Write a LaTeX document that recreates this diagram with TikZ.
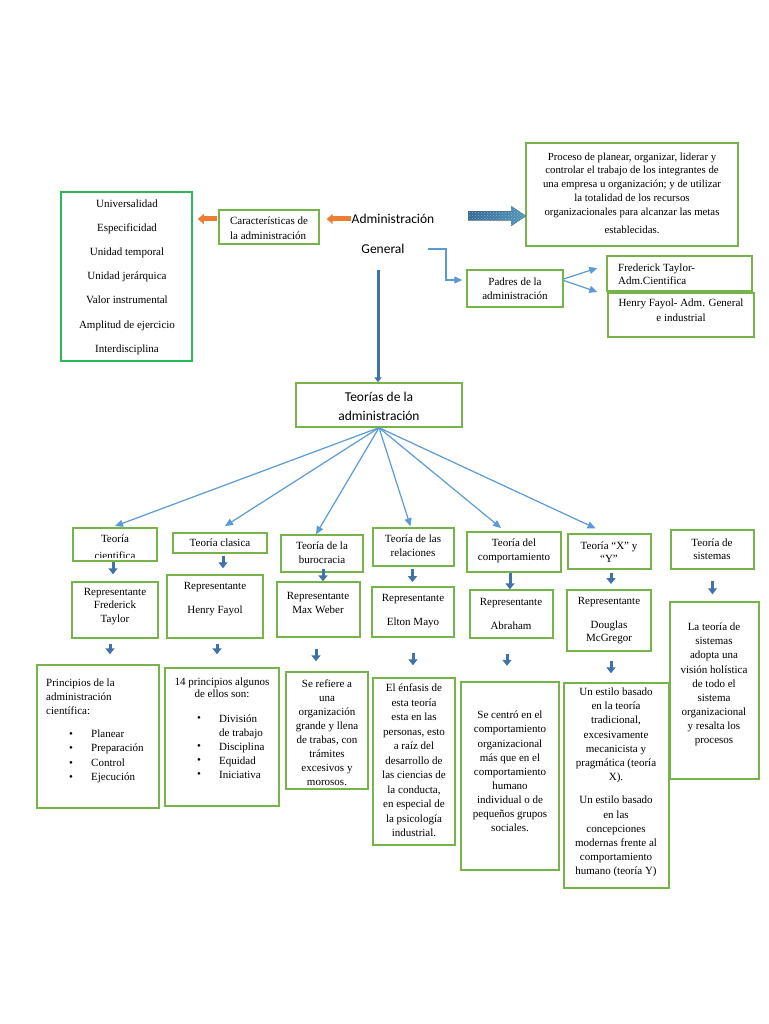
\documentclass[tikz,border=0pt]{standalone}
\usepackage{fontspec}
\setmainfont{Liberation Serif}
\newfontfamily\calibfont{Carlito}
\usetikzlibrary{arrows.meta,fit,calc,patterns}
\definecolor{gr}{RGB}{118,180,74}
\definecolor{brgr}{RGB}{40,185,90}
\definecolor{fanb}{RGB}{91,155,213}
\definecolor{darkb}{RGB}{66,114,172}
\definecolor{orng}{RGB}{237,125,49}
\newcommand\fsz[2]{\fontsize{#1}{#2}\selectfont}
\begin{document}
\begin{tikzpicture}[x=1pt,y=-1pt,
  bx/.style={draw=gr,line width=1.4pt,inner sep=0pt},
  tx/.style={font=\fsz{11}{14}, align=center, inner sep=0pt},
  sans/.style={font=\calibfont\fsz{13.5}{19}, inner sep=0pt, align=center},
  fanarrow/.style={draw=fanb,line width=1.2pt,-{Triangle[length=8pt,width=7pt]}},
  dn/.style={draw=darkb,line width=3pt,-{Triangle[length=6pt,width=9pt]}},
  orarrow/.style={draw=orng,line width=5pt,-{Triangle[length=6pt,width=10pt]}},
  vline/.style={draw=darkb,line width=3pt,-{Triangle[length=5pt,width=7pt]}},
]
\fill[white] (0,0) rectangle (768,1024);
\useasboundingbox (0,0) rectangle (768,1024);

% ---------- top part ----------
\node[bx, draw=brgr, line width=1.6pt, fit={(61,192) (192,361)}] (lst) {};
\node[tx, font=\fsz{11}{24.2}] (lstt) at (127,277) {Universalidad\\Especificidad\\Unidad temporal\\Unidad jerárquica\\Valor instrumental\\Amplitud de ejercicio\\Interdisciplina};

\node[bx, fit={(219,210) (319,244)}] (car) {};
\node[tx, align=left, font=\fsz{11}{15}] (cart) at (269,228.5) {Características de\\la administración};

\node[sans] (adm) at (393,219) {Administración};
\node[sans] (gen) at (383,249) {General};

\node[bx, fit={(526,143) (738,246)}] (def) {};
\node[tx, font=\fsz{10.8}{13.8}] (deft) at (632,193) {Proceso de planear, organizar, liderar y\\controlar el trabajo de los integrantes de\\una empresa u organización; y de utilizar\\la totalidad de los recursos\\organizacionales para alcanzar las metas\\[4pt]establecidas.};

\node[bx, fit={(467,270) (563,307)}] (pad) {};
\node[tx] (padt) at (515,289) {Padres de la\\administración};

\node[bx, fit={(607,256) (752,291)}] (fre) {};
\node[tx, align=left, font=\fsz{11}{13}, anchor=west] (fret) at (618,274.5) {Frederick Taylor-\\Adm.Cientifica};
\node[bx, fit={(608,293) (754,337)}] (hen) {};
\node[tx, font=\fsz{11}{15}] (hent) at (681,310.5) {Henry Fayol- Adm. General\\e industrial};

\node[bx, fit={(296,383) (462,427)}] (teo) {};
\node[sans] (teot) at (379,406) {Teorías de la\\administración};

% top connectors
\draw[orarrow, shorten <=1pt, shorten >=7pt] (adm.west) -- (adm.west -| car.east);
\coordinate (oa) at ($(car.west)+(0,-8)$);
\draw[orarrow, shorten <=1pt, shorten >=5pt] (oa) -- (oa -| lst.east);
\fill[left color={rgb,255:red,55;green,100;blue,155}, right color={rgb,255:red,85;green,150;blue,190}]
  (468,211.5) -- (511,211.5) -- (511,206) -- (526,216) -- (511,226) -- (511,220.5) -- (468,220.5) -- cycle;
\fill[pattern=crosshatch dots, pattern color={rgb,255:red,120;green,190;blue,180}]
  (468,211.5) -- (511,211.5) -- (511,206) -- (526,216) -- (511,226) -- (511,220.5) -- (468,220.5) -- cycle;
\coordinate (g0) at (428,249);
\draw[fanarrow] (g0) -- ++(18,0) |- ($(pad.west)+(-4,-8.5)$);
\draw[fanarrow] ($(pad.east)+(0,-9.5)$) -- ($(fre.west)+(-9,-5.5)$);
\draw[fanarrow] ($(pad.east)+(0,-8)$) -- ($(hen.west)+(-10,-23)$);
\coordinate (vtop) at (378,270);
\draw[vline] (vtop) -- (vtop |- teo.north);

% ---------- theories ----------
\node[bx, line width=1.8pt, fit={(73,528) (157,561)}] (c1) {};
\begin{scope}
  \clip (74,529) rectangle (156,557);
  \node[tx, font=\fsz{11}{17}] (c1t) at (115,547.5) {Teoría\\cientifica};
\end{scope}
\node[bx, line width=1.8pt, fit={(173,533) (267,553)}] (c2) {};
\node[tx] (c2t) at (220,543) {Teoría clasica};
\node[bx, fit={(281,535) (363,572)}] (c3) {};
\node[tx] (c3t) at (322,553) {Teoría de la\\burocracia};
\node[bx, fit={(373,528) (454,566)}] (c4) {};
\node[tx] (c4t) at (413,546) {Teoría de las\\relaciones};
\node[bx, line width=2pt, fit={(467,532) (561,572)}] (c5) {};
\node[tx] (c5t) at (514,551) {Teoría del\\comportamiento};
\node[bx, fit={(568,534) (651,569)}] (c6) {};
\node[tx, font=\fsz{11}{13}] (c6t) at (609,552) {Teoría “X” y\\“Y”};
\node[bx, fit={(671,530) (754,569)}] (c7) {};
\node[tx, font=\fsz{11}{13}] (c7t) at (712,549) {Teoría de\\sistemas};

\draw[fanarrow] (teo.south) -- ($(c1.north)+(0,-1)$);
\draw[fanarrow] (teo.south) -- ($(c2.north)+(5,-6)$);
\draw[fanarrow] (teo.south) -- ($(c3.north)+(-6,0)$);
\draw[fanarrow] (teo.south) -- ($(c4.north)+(-3,-1)$);
\draw[fanarrow] (teo.south) -- ($(c5.north)+(-13,-3)$);
\draw[fanarrow] (teo.south) -- ($(c6.north)+(-14,-5)$);

% ---------- representatives ----------
\node[bx, fit={(72,582) (158,638)}] (r1) {};
\node[tx, font=\fsz{11}{13.5}] (r1t) at (115,606.5) {Representante\\Frederick\\Taylor};
\node[bx, fit={(167,575) (263,638)}] (r2) {};
\node[tx] (r2t) at (215,599) {Representante\\[10pt]Henry Fayol};
\node[bx, fit={(277,582) (360,637)}] (r3) {};
\node[tx] (r3t) at (318,603) {Representante\\Max Weber};
\node[bx, line width=1.8pt, fit={(372,587) (454,637)}] (r4) {};
\node[tx] (r4t) at (413,611) {Representante\\[10pt]Elton Mayo};
\node[bx, fit={(470,590) (553,638)}] (r5) {};
\node[tx] (r5t) at (511,614) {Representante\\[10pt]Abraham};
\node[bx, line width=2pt, fit={(567,590) (651,651)}] (r6) {};
\node[tx, font=\fsz{11}{13}] (r6t) at (609,620.5) {Representante\\[11pt]Douglas\\McGregor};
\node[bx, fit={(670,602) (759,779)}] (s1) {};
\node[tx, font=\fsz{11}{14.1}] (s1t) at (714,684.5) {La teoría de\\sistemas\\adopta una\\visión holística\\de todo el\\sistema\\organizacional\\y resalta los\\procesos};

\draw[dn, shorten >=7pt] ([xshift=-2pt]c1.south) -- ([xshift=-2pt]c1.south |- r1.north);
\draw[dn, shorten <=2pt, shorten >=6pt] ([xshift=3pt]c2.south) -- ([xshift=3pt]c2.south |- r2.north);
\draw[dn, shorten <=-4pt] ([xshift=1pt]c3.south) -- ([xshift=1pt]c3.south |- r3.north);
\draw[dn, shorten <=2pt, shorten >=4pt] ([xshift=-1pt]c4.south) -- ([xshift=-1pt]c4.south |- r4.north);
\draw[dn] ([xshift=-4pt]c5.south) -- ([xshift=-4pt]c5.south |- r5.north);
\draw[dn, shorten <=3pt, shorten >=5pt] ([xshift=1.5pt]c6.south) -- ([xshift=1.5pt]c6.south |- r6.north);
\draw[dn, shorten <=11pt, shorten >=7pt] (c7.south) -- (c7.south |- s1.north);

% ---------- descriptions ----------
\node[bx, fit={(37,665) (159,808)}] (d1) {};
\node[tx, align=left, anchor=west] (d1h) at (46,697) {Principios de la\\administración\\científica:};
\node[tx, font=\fsz{11}{14.5}] (d1b) at (71,756.5) {\textbullet\\\textbullet\\\textbullet\\\textbullet};
\node[tx, align=left, anchor=west, font=\fsz{11}{14.5}] (d1i) at (91,756.5) {Planear\\Preparación\\Control\\Ejecución};

\node[bx, fit={(165,668) (279,806)}] (d2) {};
\node[tx, font=\fsz{11}{12.5}] (d2h) at (222,688) {14 principios algunos\\de ellos son:};
\node[tx] (d2b) at (199,747) {\textbullet\\[14pt]\textbullet\\\textbullet\\\textbullet};
\node[tx, align=left, anchor=west] (d2i) at (219,747) {División\\de trabajo\\Disciplina\\Equidad\\Iniciativa};

\node[bx, fit={(286,672) (368,789)}] (d3) {};
\node[tx] (d3t) at (327,733) {Se refiere a\\una\\organización\\grande y llena\\de trabas, con\\trámites\\excesivos y\\morosos.};

\node[bx, fit={(373,678) (455,845)}] (d4) {};
\node[tx, font=\fsz{11}{14.5}] (d4t) at (414,760.5) {El énfasis de\\esta teoría\\esta en las\\personas, esto\\a raíz del\\desarrollo de\\las ciencias de\\la conducta,\\en especial de\\la psicología\\industrial.};

\node[bx, line width=2.4pt, fit={(461,682) (559,870)}] (d5) {};
\node[tx, font=\fsz{11}{14.1}] (d5t) at (510,771.5) {Se centró en el\\comportamiento\\organizacional\\más que en el\\comportamiento\\humano\\individual o de\\pequeños grupos\\sociales.};

\node[bx, fit={(564,683) (669,888)}] (d6) {};
\node[tx, font=\fsz{11}{14.2}] (d6t) at (616,782.5) {Un estilo basado\\en la teoría\\tradicional,\\excesivamente\\mecanicista y\\pragmática (teoría\\X).\\[9pt]Un estilo basado\\en las\\concepciones\\modernas frente al\\comportamiento\\humano (teoría Y)};

\draw[dn, shorten <=5pt, shorten >=10pt] ([xshift=-5pt]r1.south) -- ([xshift=-5pt]r1.south |- d1.north);
\draw[dn, shorten <=5pt, shorten >=13pt] ([xshift=2pt]r2.south) -- ([xshift=2pt]r2.south |- d2.north);
\draw[dn, shorten <=11pt, shorten >=10pt] ([xshift=-2.5pt]r3.south) -- ([xshift=-2.5pt]r3.south |- d3.north);
\draw[dn, shorten <=15pt, shorten >=12pt] (r4.south) -- (r4.south |- d4.north);
\draw[dn, shorten <=15pt, shorten >=15pt] ([xshift=-4.5pt]r5.south) -- ([xshift=-4.5pt]r5.south |- d5.north);
\draw[dn, shorten <=9pt, shorten >=9pt] ([xshift=2pt]r6.south) -- ([xshift=2pt]r6.south |- d6.north);
\end{tikzpicture}
\end{document}
